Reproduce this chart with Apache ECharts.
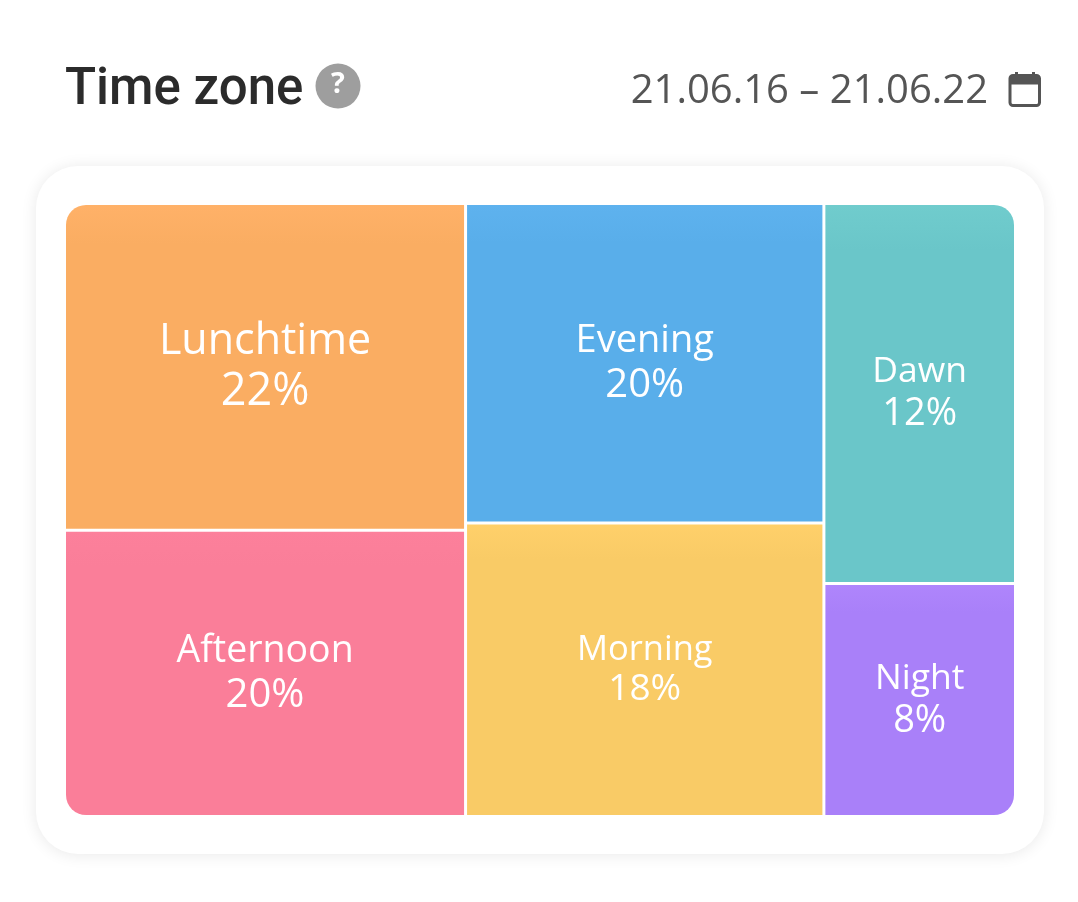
<!DOCTYPE html>
<html>
<head>
<meta charset="utf-8">
<style>html,body{margin:0;padding:0;background:#fff}#c{width:1078px;height:902px}</style>
<script src="https://cdn.jsdelivr.net/npm/echarts@6/dist/echarts.min.js"></script>
</head>
<body>
<div id="c"></div>
<script>
const titleText = 'Time zone';
const dateRange = '21.06.16 – 21.06.22';
const categories = ['Lunchtime','Afternoon','Evening','Morning','Dawn','Night'];
const values = [22.5,19.7,19.7,18.1,12.4,7.6];
const percentLabels = ['22%','20%','20%','18%','12%','8%'];
const colors = ['#FAAD62','#FA7E99','#59AEEA','#F9CB66','#6AC6C9','#A980F9'];
const topColors = ['#FFB168','#FC809B','#5EB2EE','#FFD06A','#70CCCD','#AF85FC'];
const nameSizes = [43,37.5,38,34.5,35.5,35.5];
const pctSizes = [45,40,40,37,38,38];
const lineHeights = [50,45,45,39,42,42];
const columns = [[0,1],[2,3],[4,5]];

const box = {left:66, top:205, width:948, height:610, gap:3, radius:20};
const total = values.reduce((a,b)=>a+b,0);
let cursor = box.left;
const radii = [
  [[box.radius,0,0,0],[0,0,0,box.radius]],
  [[0,0,0,0],[0,0,0,0]],
  [[0,box.radius,0,0],[0,0,box.radius,0]]
];
const series = columns.map((col,ci)=>{
  const sum = col.reduce((a,i)=>a+values[i],0);
  const w = box.width*sum/total;
  const s = {
    type:'treemap', left:cursor+(ci?1:0), top:box.top,
    width: ci<columns.length-1 ? w-box.gap+(ci?0:1) : w-1, height:box.height,
    roam:false, nodeClick:false, breadcrumb:{show:false}, squareRatio:1, animation:false, silent:true,
    levels:[{itemStyle:{gapWidth:box.gap,borderWidth:0}}],
    data:col.map((i,k)=>{
      const cellH = box.height*values[i]/sum - box.gap/2;
      return {
      name:categories[i], value:values[i],
      itemStyle:{
        color:new echarts.graphic.LinearGradient(0,0,0,1,[{offset:0,color:topColors[i]},{offset:0.12,color:colors[i]},{offset:1,color:colors[i]}]),
        borderRadius:radii[ci][k],borderWidth:0},
      label:{show:true,position:'inside',align:'center',verticalAlign:'middle',offset:[0,(cellH-2*lineHeights[i])/2-5],
        fontFamily:'Open Sans',color:'#fff',
        formatter:'{n|'+categories[i]+'}\n{p|'+percentLabels[i]+'}',
        rich:{
          n:{fontFamily:'Open Sans',fontSize:nameSizes[i],lineHeight:lineHeights[i],color:'#fff',align:'center'},
          p:{fontFamily:'Open Sans',fontSize:pctSizes[i],lineHeight:lineHeights[i],color:'#fff',align:'center'}
        }}
    };})
  };
  cursor += w;
  return s;
});

const chart = echarts.init(document.getElementById('c'),null,{renderer:'canvas'});
chart.setOption({
  backgroundColor:'#fff',
  animation:false,
  graphic:[
    {type:'rect',z:-10,silent:true,shape:{x:36,y:166,width:1008,height:688,r:42},
     style:{fill:'#fff',shadowBlur:16,shadowColor:'rgba(0,0,0,0.09)',shadowOffsetY:1}},
    {type:'text',x:65,y:91,style:{text:titleText,fontFamily:'Roboto',fontSize:51,fontWeight:500,fill:'#2b2b2b',verticalAlign:'middle'}},
    {type:'circle',shape:{cx:338,cy:86,r:22.5},style:{fill:'#9e9e9e'}},
    {type:'text',x:338,y:85,style:{text:'?',fontFamily:'Open Sans',fontSize:29,fontWeight:700,fill:'#fff',align:'center',verticalAlign:'middle'}},
    {type:'text',x:988,y:92,style:{text:dateRange,fontFamily:'Open Sans',fontSize:40,fill:'#555',align:'right',verticalAlign:'middle'}},
    {type:'rect',shape:{x:1010,y:75.5,width:29.5,height:30,r:3},style:{fill:'#fff',stroke:'#555',lineWidth:3}},
    {type:'rect',shape:{x:1010,y:75.5,width:29.5,height:9,r:[3,3,0,0]},style:{fill:'#555'}},
    {type:'rect',shape:{x:1015,y:72,width:3,height:6},style:{fill:'#555'}},
    {type:'rect',shape:{x:1032,y:72,width:3,height:6},style:{fill:'#555'}}
  ],
  series:series
});
</script>
</body>
</html>
